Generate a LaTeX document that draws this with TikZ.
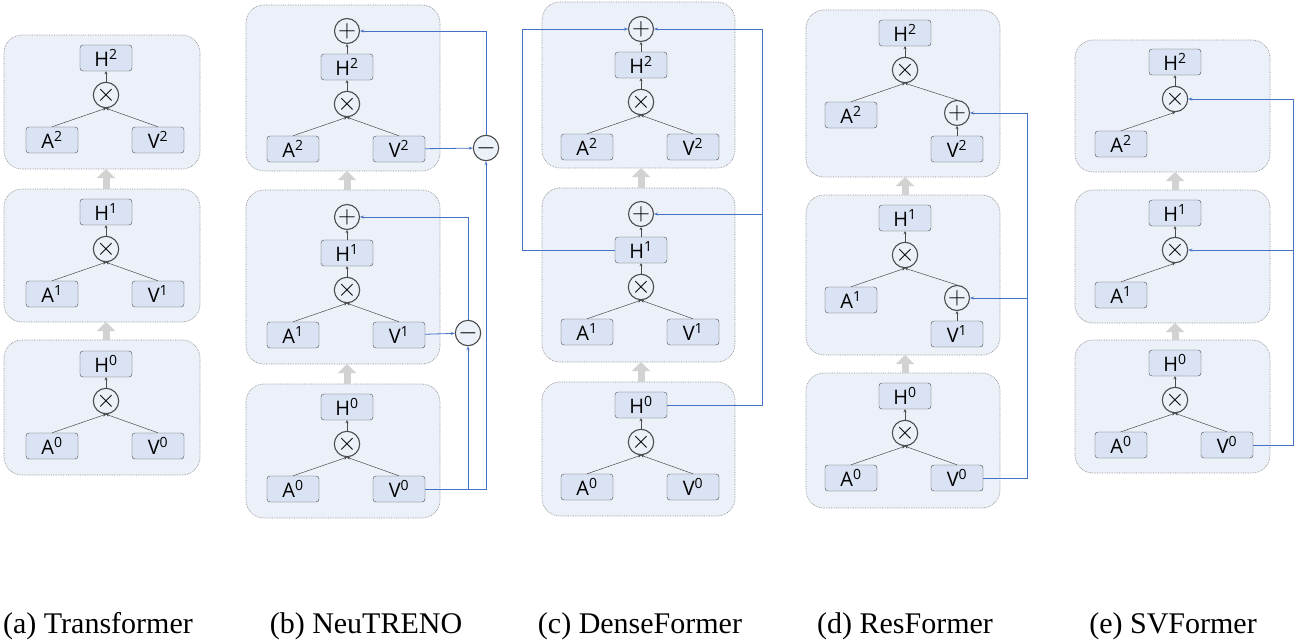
\documentclass[tikz,border=0pt]{standalone}
\usepackage{fontspec}
\setmainfont{Liberation Serif}
\newfontfamily\handfont{Open Sans}
\usepackage{xcolor}
\usetikzlibrary{arrows.meta,positioning}

\definecolor{skipblue}{RGB}{68,114,196}
\definecolor{cellfill}{RGB}{218,227,243}
\definecolor{blockfill}{RGB}{235,240,249}

% one layer: H, otimes, A and the thin links
\newcommand\cell[4]{%
  \node[var] (#1H#2) at (#3,#4) {H\textsuperscript{#2}};
  \node[op] (#1X#2) at (#3,#4+37) {$\times$};
  \node[var] (#1A#2) at (#3-54,#4+82) {A\textsuperscript{#2}};
  \draw[link] (#1X#2) -- (#1H#2);
  \draw[link] (#1A#2.north) -- (#1X#2.south);}
\newcommand\vcell[4]{%
  \node[var] (#1V#2) at (#3+52,#4+82) {V\textsuperscript{#2}};
  \draw[link] (#1V#2.north) -- (#1X#2.south);}
\newcommand\pcell[4]{%
  \node[op] (#1P#2) at (#3,#4-36) {$+$};
  \draw[link] (#1H#2) -- (#1P#2);}

\begin{document}
\begin{tikzpicture}[
    x=1pt, y=-1pt,
    blk/.style={draw=gray!90, densely dotted, line width=0.7pt, fill=blockfill, rounded corners=18pt},
    var/.style={draw=gray!60!black, fill=cellfill, rounded corners=3pt,
        minimum width=52pt, minimum height=26pt, inner sep=0pt,
        font=\handfont\fontsize{20}{20}\selectfont},
    op/.style={circle, draw=gray!60!black, line width=1.1pt, fill=blockfill, minimum size=25pt,
        inner sep=0pt, font=\fontsize{24}{24}\selectfont},
    link/.style={-{Stealth[length=3pt,width=3pt]}, gray!60!black, line width=0.5pt},
    skip/.style={-{Stealth[length=4pt,width=3pt]}, skipblue, line width=0.8pt},
    up/.style={-{Triangle[width=18pt,length=9pt]}, gray!35, line width=7pt},
    sub/.style={font=\fontsize{30}{30}\selectfont, anchor=base}
]
\useasboundingbox (0,0) rectangle (1297,643);

% (a) Transformer
\draw[blk] (4,35) rectangle (200,169);
\draw[blk] (4,189) rectangle (200,322);
\draw[blk] (4,340) rectangle (200,475);
\foreach \l/\y in {0/364,1/212,2/58} {\cell{a}{\l}{106}{\y}\vcell{a}{\l}{106}{\y}}
\draw[up] (106,340) -- (106,322);
\draw[up] (106,189) -- (106,169);

% (b) NeuTRENO
\draw[blk] (246,5) rectangle (440,171);
\draw[blk] (246,190) rectangle (440,364);
\draw[blk] (246,384) rectangle (440,518);
\foreach \l/\y in {0/407,1/253,2/67} {\cell{b}{\l}{347}{\y}\vcell{b}{\l}{347}{\y}}
\foreach \l/\y in {1/253,2/67} {\pcell{b}{\l}{347}{\y}}
\draw[up] (347,384) -- (347,364);
\draw[up] (347,190) -- (347,171);
\node[op, minimum size=22pt] (bM1) at (468,333) {$-$};
\node[op, minimum size=22pt] (bM2) at (486,148) {$-$};
\draw[skip] (bV0.east) -| (bM2.south);
\draw[skip] (bV0.east -| bM1) -- (bM1.south);
\draw[skip] (bV1) -- (bM1);
\draw[skip] (bV2) -- (bM2);
\draw[skip] (bM1.north) |- (bP1.east);
\draw[skip] (bM2.north) |- (bP2.east);

% (c) DenseFormer
\draw[blk] (542,2) rectangle (735,168);
\draw[blk] (542,188) rectangle (735,362);
\draw[blk] (542,382) rectangle (735,516);
\foreach \l/\y in {0/405,1/250,2/65} {\cell{c}{\l}{641}{\y}\vcell{c}{\l}{641}{\y}}
\foreach \l/\y in {1/250,2/65} {\pcell{c}{\l}{641}{\y}}
\draw[up] (641,382) -- (641,362);
\draw[up] (641,188) -- (641,168);
\coordinate (cR) at (762,0);
\coordinate (cL) at (522,0);
\draw[skip] (cH0.east) -| (cR |- cP2) -- (cP2.east);
\draw[skip] (cR |- cP1) -- (cP1.east);
\draw[skip] (cH1.west) -| (cL |- cP2) -- (cP2.west);

% (d) ResFormer
\draw[blk] (806,10) rectangle (1000,177);
\draw[blk] (806,195) rectangle (1000,355);
\draw[blk] (806,373) rectangle (1000,508);
\foreach \l/\y in {0/396,1/218,2/33} {\cell{d}{\l}{905}{\y}}
\vcell{d}{0}{905}{396}
\foreach \l/\y in {1/218,2/33} {
  \node[op] (dP\l) at (957,\y+80) {$+$};
  \node[var] (dV\l) at (957,\y+116) {V\textsuperscript{\l}};
  \draw[link] (dV\l) -- (dP\l);
  \draw[link] (dP\l.north) -- (dX\l.south);}
\draw[up] (905,373) -- (905,355);
\draw[up] (905,195) -- (905,177);
\coordinate (dR) at (1027,0);
\draw[skip] (dV0.east) -| (dR |- dP2) -- (dP2.east);
\draw[skip] (dR |- dP1) -- (dP1.east);

% (e) SVFormer
\draw[blk] (1075,40) rectangle (1270,172);
\draw[blk] (1075,190) rectangle (1270,323);
\draw[blk] (1075,340) rectangle (1270,473);
\foreach \l/\y in {0/363,1/213,2/62} {\cell{e}{\l}{1175}{\y}}
\vcell{e}{0}{1175}{363}
\draw[up] (1175,340) -- (1175,323);
\draw[up] (1175,190) -- (1175,172);
\coordinate (eR) at (1293,0);
\draw[skip] (eV0.east) -| (eR |- eX2) -- (eX2.east);
\draw[skip] (eR |- eX1) -- (eX1.east);

% captions
\node[sub] (capa) at (98,633) {(a) Transformer};
\node[sub] (capb) at (366,633) {(b) NeuTRENO};
\node[sub] (capc) at (640,633) {(c) DenseFormer};
\node[sub] (capd) at (905,633) {(d) ResFormer};
\node[sub] (cape) at (1173,633) {(e) SVFormer};
\end{tikzpicture}
\end{document}
